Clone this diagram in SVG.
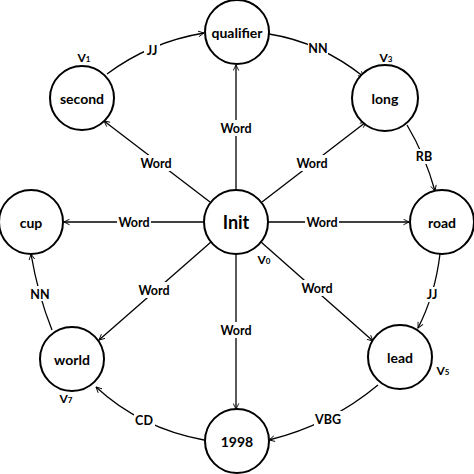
<svg xmlns="http://www.w3.org/2000/svg" width="474" height="474" viewBox="0 0 474 474">
<defs>
<marker id="arr" viewBox="0 0 10 10" refX="9" refY="5" markerWidth="7" markerHeight="7" markerUnits="userSpaceOnUse" orient="auto">
<path d="M1,1 L9,5 L1,9" fill="none" stroke="#000" stroke-width="1.3"/>
</marker>
</defs>
<style>
.n circle{fill:#fff;stroke:#000;stroke-width:2}
.n text{font-family:"Lato","Liberation Sans",sans-serif;font-weight:bold;font-size:14px;text-anchor:middle;dominant-baseline:central;fill:#000}
.e path{fill:none;stroke:#000;stroke-width:1.3;marker-end:url(#arr)}
.lb{font-family:"Lato","Liberation Sans",sans-serif;font-weight:bold;font-size:12.5px;text-anchor:middle;dominant-baseline:central;fill:#000}
.lbg{fill:#fff;stroke:none}
.v{font-family:"Lato","Liberation Sans",sans-serif;font-weight:bold;font-size:12px;text-anchor:middle;dominant-baseline:central;fill:#000}
</style>
<rect width="474" height="474" fill="#fff"/>
<g id="edges" class="e">
<path d="M236,190 L236,65"/>
<path d="M210,202 L104,121"/>
<path d="M262,202 L366,122"/>
<path d="M203,222 L64,222"/>
<path d="M268,222 L409,222"/>
<path d="M211,242 L99,340"/>
<path d="M261,242 L373,341"/>
<path d="M236,254 L236,409"/>
<path d="M107,74 Q150,42 204,33"/>
<path d="M269,34 Q320,42 364,77"/>
<path d="M407,125 Q425,155 435,191"/>
<path d="M440,254 Q435,295 418,328"/>
<path d="M378,385 Q330,425 269,440"/>
<path d="M204,440 Q140,428 96,387"/>
<path d="M52,330 Q38,295 31,254"/>
</g>
<g id="edge-labels">
<rect class="lbg" x="219" y="120" width="34" height="16"/><text class="lb" x="236" y="128">Word</text>
<rect class="lbg" x="139" y="155" width="34" height="16"/><text class="lb" x="156" y="163">Word</text>
<rect class="lbg" x="295" y="155" width="34" height="16"/><text class="lb" x="312" y="163">Word</text>
<rect class="lbg" x="117" y="214" width="34" height="16"/><text class="lb" x="134" y="222">Word</text>
<rect class="lbg" x="305" y="214" width="34" height="16"/><text class="lb" x="322" y="222">Word</text>
<rect class="lbg" x="137" y="282" width="34" height="16"/><text class="lb" x="154" y="290">Word</text>
<rect class="lbg" x="300" y="280" width="34" height="16"/><text class="lb" x="317" y="288">Word</text>
<rect class="lbg" x="219" y="322" width="34" height="16"/><text class="lb" x="236" y="330">Word</text>
<rect class="lbg" x="144" y="43" width="16" height="15"/><text class="lb" x="152" y="50">JJ</text>
<rect class="lbg" x="308" y="41" width="20" height="15"/><text class="lb" x="318" y="48">NN</text>
<rect class="lbg" x="414" y="149" width="21" height="15"/><text class="lb" x="424" y="156">RB</text>
<rect class="lbg" x="425" y="287" width="14" height="15"/><text class="lb" x="432" y="294">JJ</text>
<rect class="lbg" x="314" y="411" width="28" height="15"/><text class="lb" x="328" y="419">VBG</text>
<rect class="lbg" x="134" y="412" width="21" height="15"/><text class="lb" x="144" y="420">CD</text>
<rect class="lbg" x="30" y="286" width="21" height="15"/><text class="lb" x="40" y="294">NN</text>
</g>
<g id="init" class="n"><circle cx="236" cy="222" r="32"/><text x="236" y="222" style="font-size:18px">Init</text></g>
<g id="qualifier" class="n"><circle cx="237" cy="32" r="32"/><text x="237" y="32">qualifier</text></g>
<g id="second" class="n"><circle cx="82" cy="98" r="32"/><text x="82" y="98">second</text></g>
<g id="long" class="n"><circle cx="385" cy="98" r="33"/><text x="385" y="98">long</text></g>
<g id="cup" class="n"><circle cx="31" cy="222" r="32"/><text x="31" y="222">cup</text></g>
<g id="road" class="n"><circle cx="442" cy="222" r="32"/><text x="442" y="222">road</text></g>
<g id="world" class="n"><circle cx="72" cy="359" r="32"/><text x="72" y="359">world</text></g>
<g id="lead" class="n"><circle cx="400" cy="357" r="32"/><text x="400" y="357">lead</text></g>
<g id="n1998" class="n"><circle cx="237" cy="441" r="32"/><text x="237" y="441">1998</text></g>
<g id="vlabels">
<text class="v" x="84" y="57">V<tspan font-size="8" dy="2">1</tspan></text>
<text class="v" x="386" y="57">V<tspan font-size="8" dy="2">3</tspan></text>
<text class="v" x="264" y="259">V<tspan font-size="8" dy="2">0</tspan></text>
<text class="v" x="443" y="370">V<tspan font-size="8" dy="2">5</tspan></text>
<text class="v" x="66" y="398">V<tspan font-size="8" dy="2">7</tspan></text>
</g>
</svg>
